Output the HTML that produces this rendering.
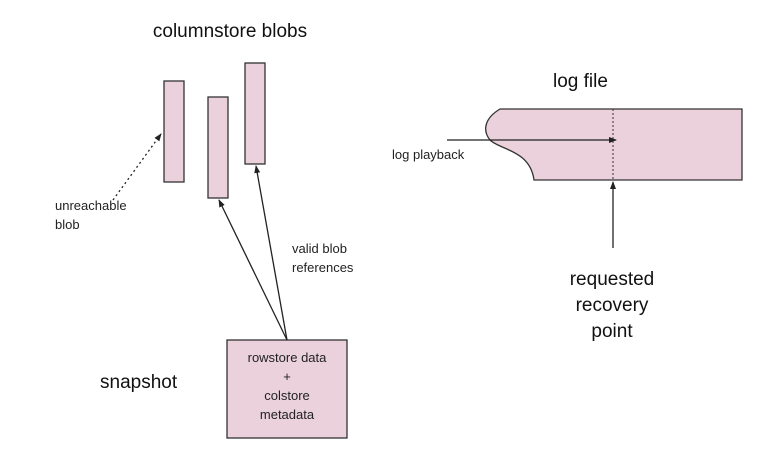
<!DOCTYPE html>
<html><head><style>body{margin:0;background:#fff}</style></head><body>
<svg width="768" height="463" viewBox="0 0 768 463" xmlns="http://www.w3.org/2000/svg" font-family="Liberation Sans, sans-serif">
<defs><marker id="a" markerWidth="8" markerHeight="8" refX="7" refY="4" orient="auto" markerUnits="userSpaceOnUse"><path d="M0,1 L8,4 L0,7z" fill="#222"/></marker></defs>
<text x="230" y="37" font-size="19" text-anchor="middle" fill="#111">columnstore blobs</text>
<g fill="#ead1dc" stroke="#333" stroke-width="1.3">
<rect x="164" y="81" width="20" height="101"/>
<rect x="208" y="97" width="20" height="101"/>
<rect x="245" y="63" width="20" height="101"/>
<rect x="227" y="340" width="120" height="98"/>
<path d="M500,109 L742,109 L742,180 L534,180 C530,150 500,150 490,140 C482,130 485,118 500,109 Z"/>
</g>
<line x1="613" y1="109" x2="613" y2="180" stroke="#333" stroke-width="1" stroke-dasharray="2,2"/>
<line x1="447" y1="140" x2="616" y2="140" stroke="#222" stroke-width="1.3" marker-end="url(#a)"/>
<line x1="613" y1="248" x2="613" y2="182" stroke="#222" stroke-width="1.3" marker-end="url(#a)"/>
<line x1="287" y1="340" x2="219" y2="200" stroke="#222" stroke-width="1.3" marker-end="url(#a)"/>
<line x1="287" y1="340" x2="256" y2="166" stroke="#222" stroke-width="1.3" marker-end="url(#a)"/>
<line x1="113" y1="200" x2="161" y2="134" stroke="#222" stroke-width="1.3" stroke-dasharray="2,3" marker-end="url(#a)"/>
<text x="55" y="210" font-size="13" fill="#222">unreachable</text>
<text x="55" y="229" font-size="13" fill="#222">blob</text>
<text x="292" y="253" font-size="13" fill="#222">valid blob</text>
<text x="292" y="272" font-size="13" fill="#222">references</text>
<text x="100" y="388" font-size="19" fill="#111">snapshot</text>
<g font-size="13" text-anchor="middle" fill="#222">
<text x="287" y="362">rowstore data</text>
<text x="287" y="381">+</text>
<text x="287" y="400">colstore</text>
<text x="287" y="419">metadata</text>
</g>
<text x="553" y="87" font-size="19" fill="#111">log file</text>
<text x="392" y="159" font-size="13" fill="#222">log playback</text>
<g font-size="19" text-anchor="middle" fill="#111">
<text x="612" y="285">requested</text>
<text x="612" y="311">recovery</text>
<text x="612" y="337">point</text>
</g>
</svg>
</body></html>
